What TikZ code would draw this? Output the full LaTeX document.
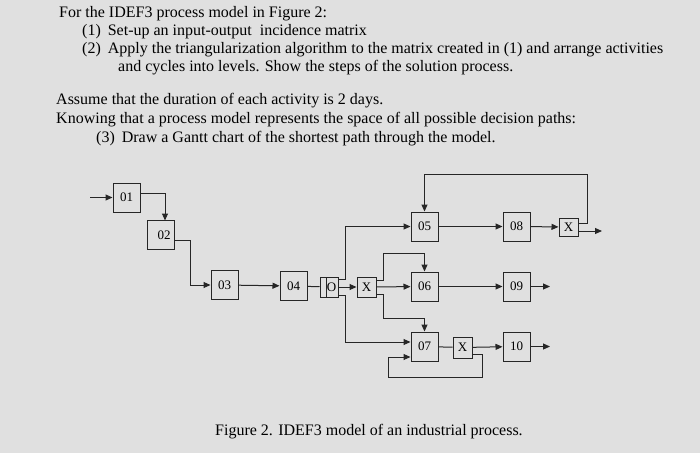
\documentclass[tikz,border=0pt]{standalone}
\usepackage{fontspec}
\setmainfont{Liberation Serif}
\usetikzlibrary{arrows.meta}
\begin{document}
\begin{tikzpicture}[x=1pt,y=-1pt,
  act/.style={draw=black!85,fill=black!12,line width=1pt,minimum width=27pt,minimum height=29pt,inner sep=0pt,font=\fontsize{13}{13}\selectfont},
  jn/.style={draw=black!85,fill=black!12,line width=1pt,minimum width=19pt,minimum height=19pt,inner sep=0pt,font=\fontsize{13}{13}\selectfont},
  ln/.style={line width=1pt,draw=black!85},
  ar/.style={ln,-{Triangle[length=7pt,width=6pt]}},
  txt/.style={anchor=base west,inner sep=0pt,font=\fontsize{16}{16}\selectfont}]
\fill[black!12] (0,0) rectangle (700,453);
\useasboundingbox (0,0) rectangle (700,453);
\node[txt] (t1) at (59,17) {For the IDEF3 process model in Figure 2:};
\node[txt] (t2) at (82,35) {(1)\hspace{7pt}Set-up an input-output\ \ incidence matrix};
\node[txt] (t3) at (82,53) {(2)\hspace{7pt}Apply the triangularization algorithm to the matrix created in (1) and arrange activities};
\node[txt] (t4) at (118,71) {and cycles into levels. Show the steps of the solution process.};
\node[txt] (t5) at (56,104) {Assume that the duration of each activity is 2 days.};
\node[txt] (t6) at (56,123) {Knowing that a process model represents the space of all possible decision paths:};
\node[txt] (t7) at (96,142) {(3)\hspace{7pt}Draw a Gantt chart of the shortest path through the model.};
\node[txt] (cap) at (215,435) {Figure 2. IDEF3 model of an industrial process.};

\node[act] (a01) at (126.5,197.5) {01};
\node[act] (a02) at (161,235) {\hspace{6pt}02};
\node[act] (a03) at (224.5,285) {03};
\node[act] (a04) at (293.5,286) {04};
\node[jn,minimum width=18pt,minimum height=20pt] (o) at (329,287) {\hspace{5pt}O};
\draw[ln] (326.5,277) -- (326.5,297);
\node[jn,minimum height=20pt] (x1) at (366.5,287) {X};
\node[act] (a05) at (424.5,226.5) {05};
\node[act] (a08) at (516.5,226.5) {08};
\node[jn,minimum height=18pt] (x2) at (568.5,227) {X};
\node[act] (a06) at (424.5,286.5) {06};
\node[act] (a09) at (516.5,286.5) {09};
\node[act] (a07) at (424.5,346.5) {07};
\node[jn,minimum height=21pt] (x3) at (462.5,347.5) {X};
\node[act] (a10) at (516.5,346.5) {10};

\coordinate (in) at (90,197.5);
\coordinate (o9) at (550,286.5);
\coordinate (o10) at (550,346.5);
\coordinate (o8) at (602,231);

\draw[ar] (in) -- (a01);
\draw[ar] (a01.east |- 0,193) -| (165,220.5);
\draw[ar] (a02.east |- 0,240) -| (190,285) -- (a03.west);
\draw[ar] (a03) -- (a04);
\draw[ln] (a04) -- (o);
\draw[ar] (o) -- (x1);
\draw[ar] (o.east |- 0,279) -| (345,226.5) -- (a05.west);
\draw[ar] (o.east |- 0,295) -| (345,342) -- (a07.west |- 0,342);
\draw[ar] (x1) -- (a06);
\draw[ar] (x1.east |- 0,280) -| (383,253) -| (a06.north);
\draw[ar] (x1.east |- 0,294) -| (383,318) -| (a07.north);
\draw[ar] (a05) -- (a08);
\draw[ar] (a08) -- (x2);
\draw[ar] (x2.east |- 0,223) -| (587,174) -| (a05.north);
\draw[ar] (x2.east |- 0,231) -- (o8);
\draw[ar] (a06) -- (a09);
\draw[ar] (a09) -- (o9);
\draw[ln] (a07) -- (x3);
\draw[ar] (x3) -- (a10);
\draw[ar] (a10) -- (o10);
\draw[ar] (x3.east |- 0,354) -| (482,377) -| (388,357) -- (a07.west |- 0,357);
\end{tikzpicture}
\end{document}
